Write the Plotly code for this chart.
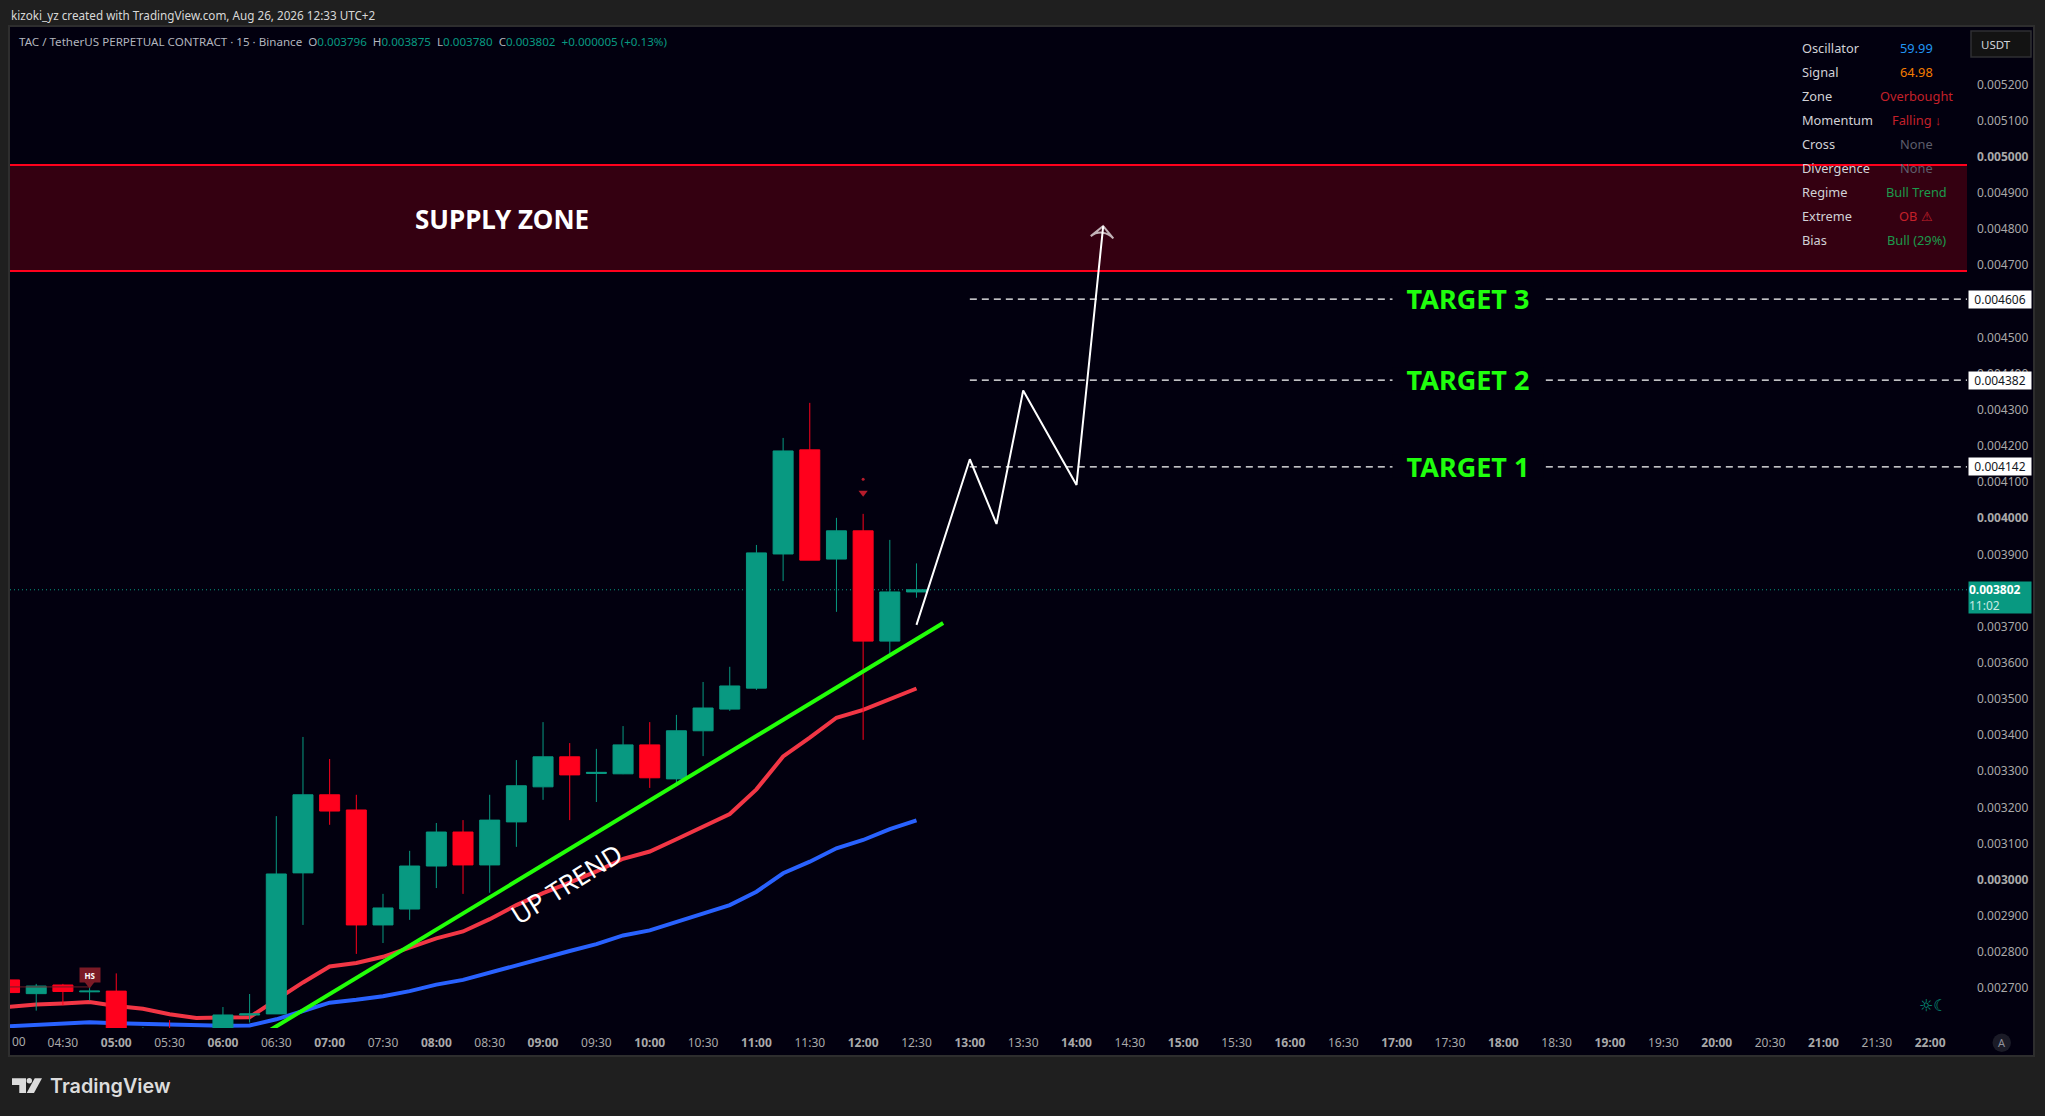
import plotly.graph_objects as go

# Page and pane sizes (pixels)
W, H = 2045, 1116
LEFT, RIGHT, TOP, BOTTOM = 10, 1967, 27, 1028
FRAME_R, FRAME_B = 2034, 1056
DAY = '2026-08-26 '

BG = '#1f1f1f'
PANE = '#02000f'
UP = '#089981'
DOWN = '#ff001c'
FONT = 'Noto Sans'

# Candles, 15 minute bars
times = ['04:00', '04:15', '04:30', '04:45', '05:00', '05:15', '05:30', '05:45', '06:00', '06:15',
         '06:30', '06:45', '07:00', '07:15', '07:30', '07:45', '08:00', '08:15', '08:30', '08:45',
         '09:00', '09:15', '09:30', '09:45', '10:00', '10:15', '10:30', '10:45', '11:00', '11:15',
         '11:30', '11:45', '12:00', '12:15', '12:30']
opens = [.002723, .002685, .002709, .002690, .002692, .002560, .002585, .002565, .002575, .002626,
         .002629, .003019, .003235, .003193, .002875, .002919, .003038, .003132, .003041, .003160,
         .003257, .003340, .003294, .003293, .003373, .003279, .003412, .003472, .003530, .003901,
         .004189, .003887, .003965, .003660, .003796]
highs = [.002725, .002712, .002712, .002705, .002741, .002592, .002612, .002585, .002648, .002684,
         .003176, .003395, .003334, .003235, .002961, .003080, .003157, .003165, .003235, .003331,
         .003436, .003378, .003362, .003425, .003436, .003456, .003547, .003589, .003926, .004222,
         .004319, .004001, .004012, .003940, .003875]
lows = [.002686, .002638, .002653, .002666, .002570, .002545, .002550, .002550, .002560, .002605,
        .002629, .002875, .003152, .002795, .002825, .002889, .002977, .002961, .002964, .003091,
        .003221, .003165, .003215, .003292, .003254, .003259, .003342, .003467, .003525, .003826,
        .003884, .003741, .003387, .003624, .003780]
closes = [.002688, .002706, .002691, .002692, .002585, .002575, .002565, .002570, .002626, .002629,
          .003016, .003235, .003190, .002875, .002922, .003038, .003132, .003041, .003165, .003260,
          .003340, .003290, .003297, .003373, .003282, .003412, .003475, .003536, .003904, .004186,
          .003884, .003965, .003660, .003796, .003802]

# Moving averages
ema_fast = [.002649, .002655, .002658, .002662, .002651, .002643, .002628, .002618, .002619, .002620,
            .002668, .002716, .002760, .002770, .002787, .002813, .002838, .002857, .002891, .002930,
            .002963, .002992, .003023, .003058, .003078, .003112, .003146, .003182, .003250, .003341,
            .003393, .003448, .003470, .003500, .003529]
ema_slow = [.002595, .002598, .002603, .002606, .002603, .002601, .002598, .002596, .002596, .002597,
            .002614, .002637, .002660, .002668, .002678, .002692, .002710, .002723, .002743, .002764,
            .002785, .002803, .002822, .002846, .002860, .002884, .002907, .002930, .002967, .003018,
            .003050, .003087, .003110, .003140, .003164]

# Drawings
trend_times = ['06:15', '12:45']
trend_prices = [.002550, .003710]
path_times = ['12:30', '13:00', '13:15', '13:30', '14:00', '14:15']
path_prices = [.003705, .004163, .003984, .004353, .004092, .004808]
target_names = ['TARGET 1', 'TARGET 2', 'TARGET 3']
target_prices = [.004142, .004382, .004606]
target_labels = ['0.004142', '0.004382', '0.004606']
zone_top, zone_bottom = .004977, .004684
last_price = .003802

# Axes
x_ticks = ['04:30', '05:00', '05:30', '06:00', '06:30', '07:00', '07:30', '08:00', '08:30', '09:00',
           '09:30', '10:00', '10:30', '11:00', '11:30', '12:00', '12:30', '13:00', '13:30', '14:00',
           '14:30', '15:00', '15:30', '16:00', '16:30', '17:00', '17:30', '18:00', '18:30', '19:00',
           '19:30', '20:00', '20:30', '21:00', '21:30', '22:00']
y_ticks = [.0027, .0028, .0029, .0030, .0031, .0032, .0033, .0034, .0035, .0036, .0037, .0038, .0039,
           .0040, .0041, .0042, .0043, .0044, .0045, .0046, .0047, .0048, .0049, .0050, .0051, .0052]
y_hidden = [.0038, .0046]
y_range = [.002590, .0053585]
x_range = [DAY + '04:00:15', DAY + '22:20:45']

# Oscillator table, top right
panel_names = ['Oscillator', 'Signal', 'Zone', 'Momentum', 'Cross', 'Divergence', 'Regime', 'Extreme', 'Bias']
panel_values = ['59.99', '64.98', 'Overbought', 'Falling ↓', 'None', 'None', 'Bull Trend', 'OB ⚠', 'Bull (29%)']
panel_colors = ['#2196f3', '#f57c00', '#c4202a', '#c4202a', '#5d5d6b', '#5d5d6b', '#1b9a4b', '#c4202a', '#1b9a4b']


def px_x(x):
    return (x - LEFT) / (RIGHT - LEFT)


def px_y(y):
    return (BOTTOM - y) / (BOTTOM - TOP)


def stamp(hhmm_list):
    return [DAY + t for t in hhmm_list]


def note(x, y, text, size=12, color='#d1d4dc', xanchor='left', yanchor='middle', family=FONT, weight=None, **kw):
    # text placed by page pixels
    font = dict(family=family, size=size, color=color)
    if weight:
        font['weight'] = weight
    fig.add_annotation(x=px_x(x), y=px_y(y), xref='paper', yref='paper', text=text, showarrow=False,
                       xanchor=xanchor, yanchor=yanchor, font=font, borderpad=0, **kw)


def poly(points, color):
    d = 'M ' + ' L '.join(f'{px_x(a):.5f},{px_y(b):.5f}' for a, b in points) + ' Z'
    fig.add_shape(type='path', path=d, xref='paper', yref='paper', fillcolor=color, line_width=0)


fig = go.Figure()

# Lower overlay: last price line and moving averages sit under the candles
fig.add_trace(go.Scatter(x=[x_range[0], x_range[1]], y=[last_price, last_price], mode='lines',
                         line=dict(color=UP, width=1, dash='1px,3px')))
fig.add_trace(go.Scatter(x=stamp(times), y=ema_fast, mode='lines', line=dict(color='#f23645', width=4)))
fig.add_trace(go.Scatter(x=stamp(times), y=ema_slow, mode='lines', line=dict(color='#2962ff', width=4)))

# Upper overlay: candles and drawings
fig.add_trace(go.Candlestick(x=stamp(times), open=opens, high=highs, low=lows, close=closes,
                             xaxis='x2', yaxis='y2', whiskerwidth=0,
                             increasing=dict(line=dict(color=UP, width=1), fillcolor=UP),
                             decreasing=dict(line=dict(color=DOWN, width=1), fillcolor=DOWN)))
fig.add_trace(go.Scatter(x=stamp(trend_times), y=trend_prices, mode='lines', xaxis='x2', yaxis='y2',
                         line=dict(color='#22ff08', width=4)))
for p in target_prices:
    fig.add_trace(go.Scatter(x=[DAY + '13:00', x_range[1]], y=[p, p], mode='lines', xaxis='x2', yaxis='y2',
                             line=dict(color='#ffffff', width=1.3, dash='7px,5px')))
fig.add_trace(go.Scatter(x=stamp(path_times), y=path_prices, mode='lines', xaxis='x2', yaxis='y2',
                         line=dict(color='#ffffff', width=2)))
fig.add_trace(go.Scatter(x=stamp(path_times[-2:]), y=path_prices[-2:], mode='markers', xaxis='x2', yaxis='y2',
                         marker=dict(symbol='arrow-wide-open', angleref='previous', size=[0, 16], color='#ffffff',
                                     line=dict(color='#ffffff', width=2))))

# Signal marks
fig.add_trace(go.Scatter(x=[DAY + '12:00'], y=[.0040706], mode='markers', xaxis='x2', yaxis='y2',
                         marker=dict(symbol='triangle-down', size=8, color='#b71c2c')))
fig.add_trace(go.Scatter(x=[DAY + '12:00'], y=[.0041075], mode='markers', xaxis='x2', yaxis='y2',
                         marker=dict(symbol='circle', size=3, color='#b71c2c')))
fig.add_trace(go.Scatter(x=[DAY + '04:00', DAY + '04:45'], y=[.0027036, .0027036], mode='lines', xaxis='x2', yaxis='y2',
                         line=dict(color='#6d1a26', width=1)))
fig.add_trace(go.Scatter(x=[DAY + '04:45'], y=[.002712], mode='markers', xaxis='x2', yaxis='y2',
                         marker=dict(symbol='triangle-down', size=9, color='#7b1a26')))

# Frame and pane behind everything
fig.add_shape(type='rect', xref='paper', yref='paper', x0=px_x(LEFT - 1), x1=px_x(FRAME_R), y0=px_y(TOP - 1), y1=px_y(FRAME_B),
              fillcolor=PANE, line=dict(color='#2e2e2e', width=2), layer='below')

# Supply zone
fig.add_shape(type='rect', xref='paper', yref='y', x0=0, x1=1, y0=zone_bottom, y1=zone_top,
              fillcolor='#340011', line_width=0, layer='below')
for p in [zone_top, zone_bottom]:
    fig.add_shape(type='line', xref='paper', yref='y', x0=0, x1=1, y0=p, y1=p,
                  line=dict(color='#ff001c', width=2), layer='below')

# Currency button and auto circle
fig.add_shape(type='path', xref='paper', yref='paper', fillcolor='#131313', line=dict(color='#2f2f33', width=1.5),
              path='M {0:.5f},{2:.5f} L {1:.5f},{2:.5f} L {1:.5f},{3:.5f} L {0:.5f},{3:.5f} Z'.format(
                  px_x(1971), px_x(2031), px_y(31), px_y(57)))
fig.add_shape(type='circle', xref='paper', yref='paper', x0=px_x(1992.5), x1=px_x(2011), y0=px_y(1033.5), y1=px_y(1052),
              fillcolor='#1b1b27', line_width=0)

# TradingView mark
poly([(12, 1078.3), (26, 1078.3), (26, 1093), (19.3, 1093), (19.3, 1085), (12, 1085)], '#dcdcdc')
poly([(34.7, 1078.3), (42, 1078.3), (34, 1093), (26.7, 1093)], '#dcdcdc')
fig.add_shape(type='circle', xref='paper', yref='paper', x0=px_x(26.6), x1=px_x(32), y0=px_y(1078), y1=px_y(1083.4),
              fillcolor='#dcdcdc', line_width=0)

# Header and legend texts
note(10, 15, 'kizoki_yz created with TradingView.com, Aug 26, 2026 12:33 UTC+2', size=11.7, color='#d8d8d8')
t = '<span style="color:%s">%s</span>'
legend = ('TAC / TetherUS PERPETUAL CONTRACT · 15 · Binance  O' + t % (UP, '0.003796') + '  H' + t % (UP, '0.003875')
          + '  L' + t % (UP, '0.003780') + '  C' + t % (UP, '0.003802') + '  ' + t % (UP, '+0.000005 (+0.13%)'))
note(18, 41.5, legend, size=11.6, color='#b2b5be')
note(502, 219, '<b>SUPPLY ZONE</b>', size=26, color='#ffffff', xanchor='center')
note(49, 1086, 'TradingView', size=19.8, color='#dcdcdc', family='Inter', weight=600)
note(11, 1041.7, '00', size=12, color='#a9a9a9')
note(2001.7, 1042.7, 'A', size=11, color='#8f8f99', xanchor='center')
note(1980, 45, 'USDT', size=11.5, color='#d1d4dc')
note(1933, 1005, '☼☾', size=16, color=UP, xanchor='center', family='DejaVu Sans')

# Table on the pane
for i, name in enumerate(panel_names):
    note(1801, 48.3 + 24 * i, name, size=12.8, color='#d1d1d6')
    note(1916, 48.3 + 24 * i, panel_values[i], size=12.8, color=panel_colors[i], xanchor='center')

# Target names break the dashed lines, price tags sit on the axis
for name, p, lab in zip(target_names, target_prices, target_labels):
    fig.add_annotation(x=px_x(1468), y=p, xref='paper', yref='y', text='<b>%s</b>' % name, showarrow=False,
                       width=150, height=22, bgcolor=PANE, borderpad=0, xanchor='center', yanchor='middle', yshift=1,
                       font=dict(family=FONT, size=27, color='#1fff0d'))
    fig.add_annotation(x=px_x(1968), y=p, xref='paper', yref='y', text=lab, showarrow=False,
                       width=62, height=17, bgcolor='#ffffff', borderpad=0, xanchor='left', yanchor='middle',
                       font=dict(family=FONT, size=12, color='#131722'))
fig.add_annotation(x=px_x(1968), y=px_y(597), xref='paper', yref='paper', showarrow=False, align='left',
                   text='<b>0.003802</b><br><span style="color:#c8ebe4">11:02</span>',
                   width=62, height=31, bgcolor=UP, borderpad=0, xanchor='left', yanchor='middle',
                   font=dict(family=FONT, size=12, color='#ffffff'))

fig.add_annotation(x=DAY + '09:13', y=.002988, xref='x', yref='y', text='UP TREND', textangle=-32, showarrow=False,
                   font=dict(family=FONT, size=26, color='#ffffff'))
fig.add_annotation(x=DAY + '04:45', y=.002737, xref='x', yref='y', text='<b>HS</b>', showarrow=False,
                   width=20, height=14, bgcolor='#7b1a26', borderpad=0, font=dict(family=FONT, size=8, color='#ffffff'))

fig.update_layout(
    width=W, height=H, showlegend=False, paper_bgcolor=BG, plot_bgcolor=PANE,
    margin=dict(l=LEFT, r=W - RIGHT, t=TOP, b=H - BOTTOM, pad=0, autoexpand=False),
    boxgap=0.25, boxgroupgap=0, hovermode=False,
    xaxis=dict(type='date', range=x_range, tickmode='array', tickvals=stamp(x_ticks), tickangle=0,
               ticktext=['<b>%s</b>' % s if s.endswith(':00') else s for s in x_ticks],
               tickfont=dict(family=FONT, size=12, color='#a9a9a9'), showgrid=False, zeroline=False,
               showline=False, ticks='', ticklabelstandoff=6, rangeslider=dict(visible=False)),
    yaxis=dict(range=y_range, side='right', tickmode='array', tickvals=[v for v in y_ticks if v not in y_hidden],
               ticktext=['<b>%.6f</b>' % v if round(v * 1e6) % 1000 == 0 else '%.6f' % v for v in y_ticks if v not in y_hidden],
               tickfont=dict(family=FONT, size=12, color='#a9a9a9'), showgrid=False, zeroline=False,
               showline=False, ticks='', ticklabelstandoff=9),
    xaxis2=dict(type='date', range=x_range, overlaying='x', visible=False, rangeslider=dict(visible=False)),
    yaxis2=dict(range=y_range, overlaying='y', visible=False),
)

fig.write_html('out.html', config=dict(displayModeBar=False),
               post_script="document.body.style.margin='0';document.body.style.overflow='hidden';")
